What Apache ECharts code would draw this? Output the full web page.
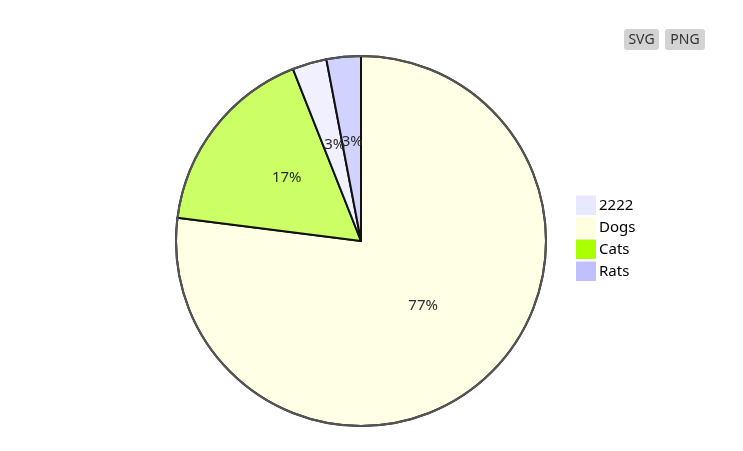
<!DOCTYPE html>
<html><head><meta charset="utf-8">
<script src="https://cdn.jsdelivr.net/npm/echarts@6/dist/echarts.min.js"></script>
<style>html,body{margin:0;padding:0;background:#fff}#c{width:743px;height:451px}</style>
</head><body><div id="c"></div>
<script>
// data, clockwise from 12 o'clock
const sliceNames = ['Dogs', 'Cats', '2222', 'Rats'];
const sliceValues = [77, 17, 3, 3];
const sliceColors = ['#ffffe6', '#ccff66', '#f0f0ff', '#d2d2ff'];
// legend order and colours
const legendNames = ['2222', 'Dogs', 'Cats', 'Rats'];
const legendColors = ['#e8e8ff', '#ffffe0', '#aaff00', '#c0c0ff'];
const buttonLabels = ['SVG', 'PNG'];

const chart = echarts.init(document.getElementById('c'), null, {renderer: 'canvas'});
const font = '"Noto Sans", "Open Sans", sans-serif';
const pct = p => Math.round(p.percent) + '%';
chart.setOption({
  animation: false,
  textStyle: {fontFamily: font},
  legend: {
    orient: 'vertical', left: 571, top: 190.5,
    itemWidth: 20, itemHeight: 19.5, itemGap: 2.5,
    icon: 'rect',
    textStyle: {fontSize: 15, color: '#000', fontFamily: font, padding: [0, 0, 0, -2]},
    data: legendNames.map((n, i) => ({name: n, itemStyle: {color: legendColors[i], borderWidth: 0}}))
  },
  graphic: buttonLabels.map((t, i) => ({
    type: 'group', left: [624, 665][i], top: 29,
    children: [
      {type: 'rect', shape: {x: 0, y: 0, width: [35, 40][i], height: 21, r: 3}, style: {fill: '#d3d3d3'}},
      {type: 'text', style: {text: t, x: [35, 40][i] / 2, y: 11, align: 'center', verticalAlign: 'middle', fontSize: 14, fill: '#333', fontFamily: font}}
    ]
  })),
  series: [
    {
      type: 'pie', center: [361, 241], radius: 185, startAngle: 90, clockwise: true,
      avoidLabelOverlap: false, silent: true,
      itemStyle: {borderColor: '#111', borderWidth: 2},
      label: {show: false}, labelLine: {show: false},
      data: sliceNames.map((n, i) => ({name: n, value: sliceValues[i], itemStyle: {color: sliceColors[i]}}))
    },
    {
      type: 'pie', center: [361, 241], radius: 185, silent: true, legendHoverLink: false,
      label: {show: false}, labelLine: {show: false},
      itemStyle: {color: 'rgba(0,0,0,0)', borderColor: '#555', borderWidth: 2},
      data: [{name: '__outline', value: 1}]
    },
    {
      type: 'pie', center: [361, 241], radius: 182, startAngle: 90, clockwise: true,
      avoidLabelOverlap: false, silent: true, legendHoverLink: false,
      labelLayout: {hideOverlap: false},
      itemStyle: {color: 'rgba(0,0,0,0)', borderWidth: 0},
      label: {show: true, position: 'inner', offset: [0, -6], formatter: pct, fontSize: 15, color: '#2b2b2b', fontFamily: font},
      labelLine: {show: false},
      data: sliceNames.map((n, i) => ({name: n, value: sliceValues[i]}))
    }
  ]
});
</script></body></html>
